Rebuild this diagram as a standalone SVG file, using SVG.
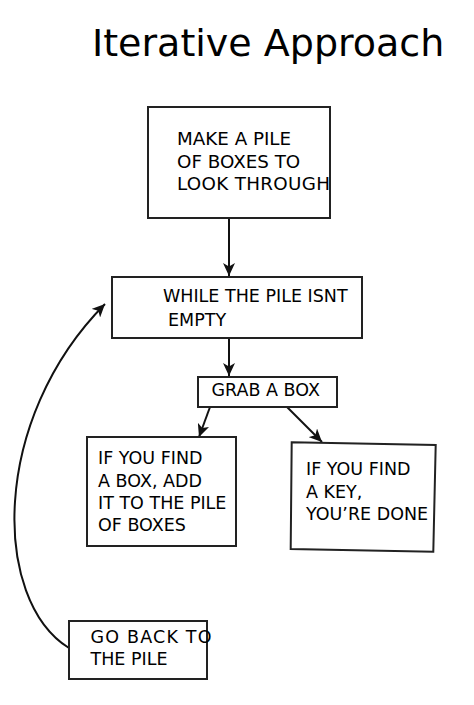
<svg xmlns="http://www.w3.org/2000/svg" width="474" height="705" viewBox="0 0 474 705">
<style>
.box{fill:#fff;stroke:#222;stroke-width:2}
.t{font-family:"DejaVu Sans",sans-serif;font-size:17.5px;fill:#000}
.title{font-family:"DejaVu Sans",sans-serif;font-size:38px;fill:#000}
.c{fill:none;stroke:#111;stroke-width:2}
</style>
<defs>
<marker id="ah" markerUnits="userSpaceOnUse" markerWidth="14" markerHeight="12" refX="13" refY="6" orient="auto">
<path d="M0,0 L13,6 L0,12 L3.5,6 z" fill="#111"/>
</marker>
</defs>
<rect width="474" height="705" fill="#fff"/>
<text class="title" x="92" y="56">Iterative Approach</text>
<g id="connectors">
<line class="c" x1="229" y1="218" x2="229" y2="276" marker-end="url(#ah)"/>
<line class="c" x1="229" y1="338" x2="229" y2="376" marker-end="url(#ah)"/>
<line class="c" x1="210" y1="407" x2="199" y2="437" marker-end="url(#ah)"/>
<line class="c" x1="287" y1="407" x2="322" y2="442" marker-end="url(#ah)"/>
<path class="c" stroke-width="1.7" d="M69,648 C-8,600 -10,420 105,304" marker-end="url(#ah)"/>
</g>
<g id="make-pile">
<rect class="box" x="148" y="107" width="182" height="111"/>
<text class="t" style="font-size:18.3px" x="177" y="145">MAKE A PILE</text>
<text class="t" style="font-size:18.3px" x="177" y="167.5">OF BOXES TO</text>
<text class="t" style="font-size:18.3px" x="177" y="190" textLength="153" lengthAdjust="spacing">LOOK THROUGH</text>
</g>
<g id="while-pile">
<rect class="box" x="112" y="277" width="250" height="61"/>
<text class="t" x="163" y="302">WHILE THE PILE ISNT</text>
<text class="t" x="168" y="326">EMPTY</text>
</g>
<g id="grab-box">
<rect class="box" x="198" y="377" width="139" height="30"/>
<text class="t" x="211.5" y="396">GRAB A BOX</text>
</g>
<g id="find-box">
<rect class="box" x="87" y="437" width="149" height="109"/>
<text class="t" x="98" y="464">IF YOU FIND</text>
<text class="t" x="98" y="486.5">A BOX, ADD</text>
<text class="t" x="98" y="509">IT TO THE PILE</text>
<text class="t" x="98" y="531">OF BOXES</text>
</g>
<g id="find-key">
<polygon class="box" points="291.7,442.3 435.7,445 433.3,551.7 290.7,549"/>
<text class="t" x="306" y="475">IF YOU FIND</text>
<text class="t" x="306" y="497.5">A KEY,</text>
<text class="t" x="306" y="520">YOU’RE DONE</text>
</g>
<g id="go-back">
<rect class="box" x="69" y="621" width="138" height="58" style="fill:none"/>
<text class="t" x="90.5" y="643" textLength="121" lengthAdjust="spacing">GO BACK TO</text>
<text class="t" x="90.5" y="665">THE PILE</text>
</g>
</svg>
